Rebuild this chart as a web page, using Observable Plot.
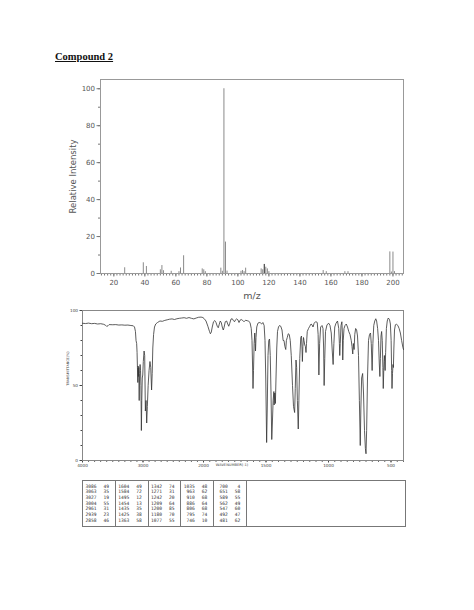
<!DOCTYPE html>
<html><head><meta charset="utf-8">
<script src="https://cdn.jsdelivr.net/npm/d3@7"></script>
<script src="https://cdn.jsdelivr.net/npm/@observablehq/plot@0.6"></script>
<style>
html,body{margin:0;padding:0;background:#fff;}
#page{position:relative;width:474px;height:610px;overflow:hidden;background:#fff;}
#title{position:absolute;left:55px;top:52px;font:bold 10.5px/1 "Liberation Serif",serif;text-decoration:underline;color:#111;}
#ms{position:absolute;left:0;top:0;}
#ir{position:absolute;left:0;top:300px;}
#tbl{position:absolute;left:82px;top:480px;}
#tbl table{border-collapse:collapse;table-layout:fixed;border:1.5px solid #777;font:4.6px/5.67px "DejaVu Sans Mono",monospace;color:#333;}
#tbl td{padding:0;height:5.67px;white-space:nowrap;}
#tbl td.wn{width:13.5px;text-align:right;padding-right:2.5px;}
#tbl td.t{width:10px;text-align:right;padding-right:5.8px;border-right:1.5px solid #777;}
#tbl td.blank{width:158px;}
#tbl tr:first-child td{padding-top:2.6px;}
#tbl tr:last-child td{padding-bottom:2.4px;}
</style></head><body><div id="page">
<div id="title">Compound 2</div>
<div id="ms"></div>
<div id="ir"></div>
<div id="tbl"></div>
</div>
<script>
// ---- Mass spectrum data ----
const msMz = [27, 39, 41, 50, 51, 52, 57, 62, 63, 65, 77, 78, 79, 89, 90, 91, 92, 93, 102, 103, 104, 105, 115, 116, 117, 118, 119, 120, 155, 157, 169, 171, 198, 199, 200, 201];
const msIntensity = [3.1, 5.8, 3.8, 2.0, 4.3, 1.5, 1.2, 1.0, 3.0, 9.6, 2.5, 2.0, 1.0, 2.9, 1.2, 100, 17, 1.3, 1.2, 1.6, 1.0, 2.9, 2.5, 2.0, 4.9, 3.4, 2.5, 1.0, 1.6, 1.0, 1.0, 1.0, 11.7, 0.8, 11.6, 1.0];
const msXTickLabels = [20, 40, 60, 80, 100, 120, 140, 160, 180, 200];
const msYTickLabels = [0, 20, 40, 60, 80, 100];

// ---- IR spectrum data ----
const irWavenumber = [4000,3950,3900,3850,3800,3750,3700,3650,3620,3600,3580,3560,3500,3450,3400,3350,3300,3250,3200,3160,3140,3125,3115,3105,3098,3092,3086,3081,3076,3070,3063,3056,3048,3041,3034,3027,3020,3012,3004,2995,2982,2972,2961,2950,2939,2928,2915,2900,2885,2872,2858,2848,2838,2825,2810,2790,2760,2720,2680,2640,2600,2560,2520,2480,2440,2400,2360,2320,2280,2240,2200,2160,2120,2080,2040,2010,1995,1980,1965,1952,1945,1938,1930,1920,1910,1900,1890,1882,1875,1866,1858,1850,1842,1836,1826,1815,1806,1798,1790,1780,1770,1760,1752,1744,1735,1725,1716,1708,1698,1688,1676,1664,1650,1638,1628,1618,1612,1608,1604,1600,1595,1590,1586,1584,1580,1574,1565,1555,1545,1535,1525,1515,1508,1502,1495,1490,1484,1478,1472,1466,1460,1454,1449,1443,1437,1435,1430,1425,1420,1414,1408,1400,1392,1382,1372,1363,1356,1349,1342,1337,1330,1322,1314,1306,1298,1288,1280,1271,1266,1260,1255,1249,1242,1237,1230,1222,1216,1212,1209,1205,1200,1196,1190,1185,1180,1176,1170,1160,1150,1140,1132,1124,1115,1104,1100,1090,1083,1077,1071,1063,1052,1044,1039,1035,1030,1024,1012,998,988,978,970,963,957,950,940,928,918,913,910,906,900,893,889,886,882,876,868,858,848,838,828,818,812,806,801,795,790,783,775,768,760,753,746,741,735,727,720,712,705,700,695,688,680,672,664,658,651,645,638,630,622,615,607,600,594,589,585,580,575,570,565,562,558,553,550,547,543,537,530,522,512,505,499,495,492,488,484,481,477,472,465,455,445,435,425,415,405,400];
const irTransmittance = [91.5,91.3,91.6,91.2,91.4,91.0,91.2,90.8,90.2,89.4,89.8,90.6,90.5,90.6,90.3,90.4,90.2,90.3,90.0,89.8,89.0,86,80,78,72,62,52,63,56,62,40,58,64,60,50,20,40,55,57,66,73,70,33,40,25,36,50,60,66,62,47,58,75,84,89,91,92,93,92.8,93.4,93.8,94.2,94.4,94.0,94.5,94.8,95,95.2,94.8,95.3,94.8,94.4,95.0,95.5,95.6,95.3,94.6,93,89.5,86,84.5,85.5,89,92.5,93.3,92,89.5,88.5,90.5,93,92,89,87,88.5,92.5,93,91,89.5,91.5,94.3,94.5,93.2,92.5,93.8,94.4,93.8,92,93.5,94,93.5,92.5,93.5,93.2,92.8,92,88,80,65,48,60,78,85,78,73,82,89,91.5,92,91.8,91,92,90,80,55,12,35,70,80,81,70,45,14,25,40,46,37,45,38,55,75,86,89,90,89.5,87,80,80,76,74,80,82,84.5,84,80,70,50,36,32,48,67,62,40,21,40,68,82,83,75,66,76,82,80,77,76,72,78,86,88,89.5,91,90.5,89,91.5,92.5,92.5,92,84,57,78,89,90,88,75,50,68,86,90.5,91.5,90,85,73,64,78,89,91.5,93,88,78,70,78,90,92.5,85,67,80,88,90,91,89,86,84,80,76,71,78,74,84,88,87,83,70,40,10,35,55,58,45,20,8,4.5,20,55,80,84,85,78,60,78,90,93,94.5,93,88,80,65,56,68,83,86,80,62,48,60,70,66,60,72,88,93,95,94,91,80,60,48,58,64,62,75,87,90.5,90.8,90,88,85,80,75.5,74];
const irXTickLabels = [4000, 3000, 2000, 1500, 1000, 500];
const irYTickLabels = [0, 50, 100];

// ---- Peak table ----
const peakWavenumbers = [3086,3063,3027,3004,2961,2939,2858,1604,1584,1495,1454,1435,1425,1363,1342,1271,1242,1209,1200,1180,1077,1035,963,910,886,806,795,746,700,651,589,562,547,492,481];
const peakTransmittance = [49,35,19,55,31,23,46,49,72,12,13,35,38,58,74,31,20,64,85,70,55,48,62,68,64,68,74,10,4,58,55,49,60,47,62];

const msData = msMz.map((mz, i) => ({mz, intensity: msIntensity[i]}));

// IR wavenumber axis changes its scale at 2000 cm-1 (piecewise linear)
const wnPos = d3.scaleLinear().domain([4000, 2000, 400]).range([0, 121, 321]);
const irData = irWavenumber.map((wn, i) => ({wn, t: irTransmittance[i]}));
const wnFmt = p => String(Math.round(wnPos.invert(p)));

const ms = Plot.plot({
  width: 474, height: 300,
  marginLeft: 100, marginRight: 71, marginTop: 79, marginBottom: 27,
  x: {domain: [11.4, 206.8]},
  y: {domain: [0, 105]},
  style: {fontFamily: "DejaVu Sans", fontSize: "7px", color: "#555", background: "transparent"},
  marks: [
    Plot.ruleX(msData, {filter: d => d.mz !== 117, x: "mz", y1: 0, y2: "intensity", stroke: "#8a8a8a", strokeWidth: 1}),
    Plot.ruleX(msData, {filter: d => d.mz === 117, x: "mz", y1: 0, y2: "intensity", stroke: "#222", strokeWidth: 1}),
    Plot.axisX({ticks: d3.range(12, 207, 2), tickSize: 2.5, tickFormat: () => "", label: null, stroke: "#777"}),
    Plot.axisX({ticks: msXTickLabels, tickSize: 3.5, tickPadding: 3, label: null, stroke: "#777"}),
    Plot.axisY({ticks: d3.range(0, 105, 10), tickSize: 2, tickFormat: () => "", label: null, stroke: "#777"}),
    Plot.axisY({ticks: msYTickLabels, tickSize: 3.5, tickPadding: 2, label: null, stroke: "#777"}),
    Plot.frame({stroke: "#999"}),
    Plot.text(["m/z"], {frameAnchor: "bottom", dy: 22, fontSize: 9.5, fill: "#555", lineAnchor: "middle", textAnchor: "middle"}),
    Plot.text(["Relative Intensity"], {frameAnchor: "left", dx: -27, rotate: -90, fontSize: 8.5, fill: "#555", lineAnchor: "middle", textAnchor: "middle"})
  ]
});
document.getElementById("ms").appendChild(ms);

const ir = Plot.plot({
  width: 474, height: 175,
  marginLeft: 82, marginRight: 71, marginTop: 10, marginBottom: 15,
  x: {domain: [0, 321]},
  y: {domain: [0, 100]},
  style: {fontFamily: "DejaVu Sans", fontSize: "4.2px", color: "#444", background: "transparent"},
  marks: [
    Plot.axisX({ticks: d3.range(4000, 2000, -100).concat(d3.range(2000, 399, -50)).map(wnPos), tickSize: 1.8, tickFormat: () => "", label: null}),
    Plot.axisX({ticks: irXTickLabels.map(wnPos), tickSize: 2.5, tickPadding: 1, tickFormat: wnFmt, label: null}),
    Plot.axisY({ticks: d3.range(0, 101, 10), tickSize: 1.5, tickFormat: () => "", label: null}),
    Plot.axisY({ticks: irYTickLabels, tickSize: 2.5, tickPadding: 2, tickFormat: "d", label: null}),
    Plot.frame({stroke: "#888"}),
    Plot.line(irData, {x: d => wnPos(d.wn), y: "t", stroke: "#333", strokeWidth: 0.8}),
    Plot.text(["WAVENUMBER(-1)"], {frameAnchor: "bottom", dx: -11, dy: 4.5, fontSize: 3.6, fill: "#444", lineAnchor: "middle", textAnchor: "middle"}),
    Plot.text(["TRANSMITTANCE(%)"], {frameAnchor: "left", dx: -15, dy: -17, rotate: -90, fontSize: 3.4, fill: "#444", lineAnchor: "middle", textAnchor: "middle"})
  ]
});
document.getElementById("ir").appendChild(ir);

// table
const nRows = 7;
const nGroups = Math.ceil(peakWavenumbers.length / nRows);
let html = "<table>";
for (let r = 0; r < nRows; r++) {
  html += "<tr>";
  for (let g = 0; g < nGroups; g++) {
    const i = g * nRows + r;
    html += `<td class="wn">${peakWavenumbers[i] ?? ""}</td><td class="t">${peakTransmittance[i] ?? ""}</td>`;
  }
  if (r === 0) html += `<td class="blank" rowspan="${nRows}"></td>`;
  html += "</tr>";
}
html += "</table>";
document.getElementById("tbl").innerHTML = html;
</script>
</body></html>
